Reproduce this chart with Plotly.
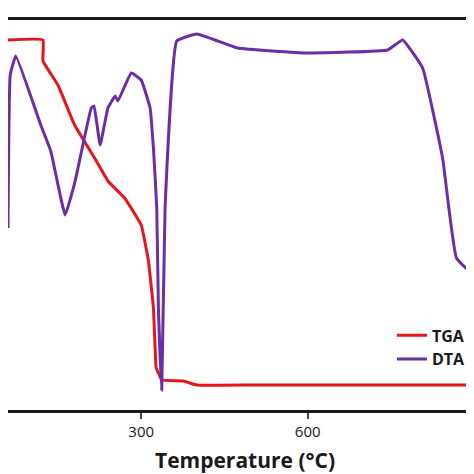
import plotly.graph_objects as go

# temperatures (°C) and signals (arbitrary units)
tga_t = [60, 123, 123, 150, 180, 216, 240, 270, 300, 313, 322, 327, 331, 337, 376, 400, 500, 600, 700, 800, 914]
tga_y = [370, 370, 349, 325, 285, 252, 229, 212, 185, 149, 102, 42, 37, 30, 29, 25, 25, 25, 25, 25, 25]

dta_t = [60, 64, 74, 119, 137, 163, 181, 210, 215, 226, 240, 253, 258, 282, 300, 316, 322, 328, 331, 337, 343, 364, 400, 474, 600, 744, 771, 807, 843, 868, 914]
dta_y = [182, 335, 354, 285, 259, 195, 229, 302, 304, 265, 302, 314, 309, 337, 330, 302, 262, 202, 102, 20, 202, 369, 376, 362, 357, 360, 370, 342, 252, 152, 127]

fig = go.Figure()
fig.add_trace(go.Scatter(x=tga_t, y=tga_y, mode='lines', name='TGA',
                         line=dict(color='#e8141c', width=3, shape='spline', smoothing=0.3)))
fig.add_trace(go.Scatter(x=dta_t, y=dta_y, mode='lines', name='DTA',
                         line=dict(color='#6a2fa6', width=3, shape='spline', smoothing=0.3)))

fig.update_layout(
    width=474, height=474,
    margin=dict(l=0, r=0, t=12, b=72, autoexpand=False),
    plot_bgcolor='white', paper_bgcolor='white',
    font=dict(family='Open Sans', color='#1a1a1a'),
    showlegend=True,
    legend=dict(x=0.81, y=0.235, xanchor='left', yanchor='top', bgcolor='rgba(0,0,0,0)',
                font=dict(size=16, family='Open Sans', weight='bold'), itemwidth=30,
                tracegroupgap=0),
)
fig.update_xaxes(range=[60, 914], tickvals=[300, 600, 900], ticktext=['300', '600', '900'],
                 ticks='outside', ticklen=6, automargin=False,
                 tickwidth=2, showline=True, linewidth=3, linecolor='#1a1a1a', mirror=True,
                 showgrid=False, zeroline=False, tickfont=dict(size=15),
                 title=dict(text='<b>Temperature (°C)</b>', font=dict(size=21), standoff=14))
fig.update_yaxes(range=[0, 390], showticklabels=False, showgrid=False, zeroline=False,
                 showline=False, ticks='', automargin=False)

fig.write_html("out.html")
